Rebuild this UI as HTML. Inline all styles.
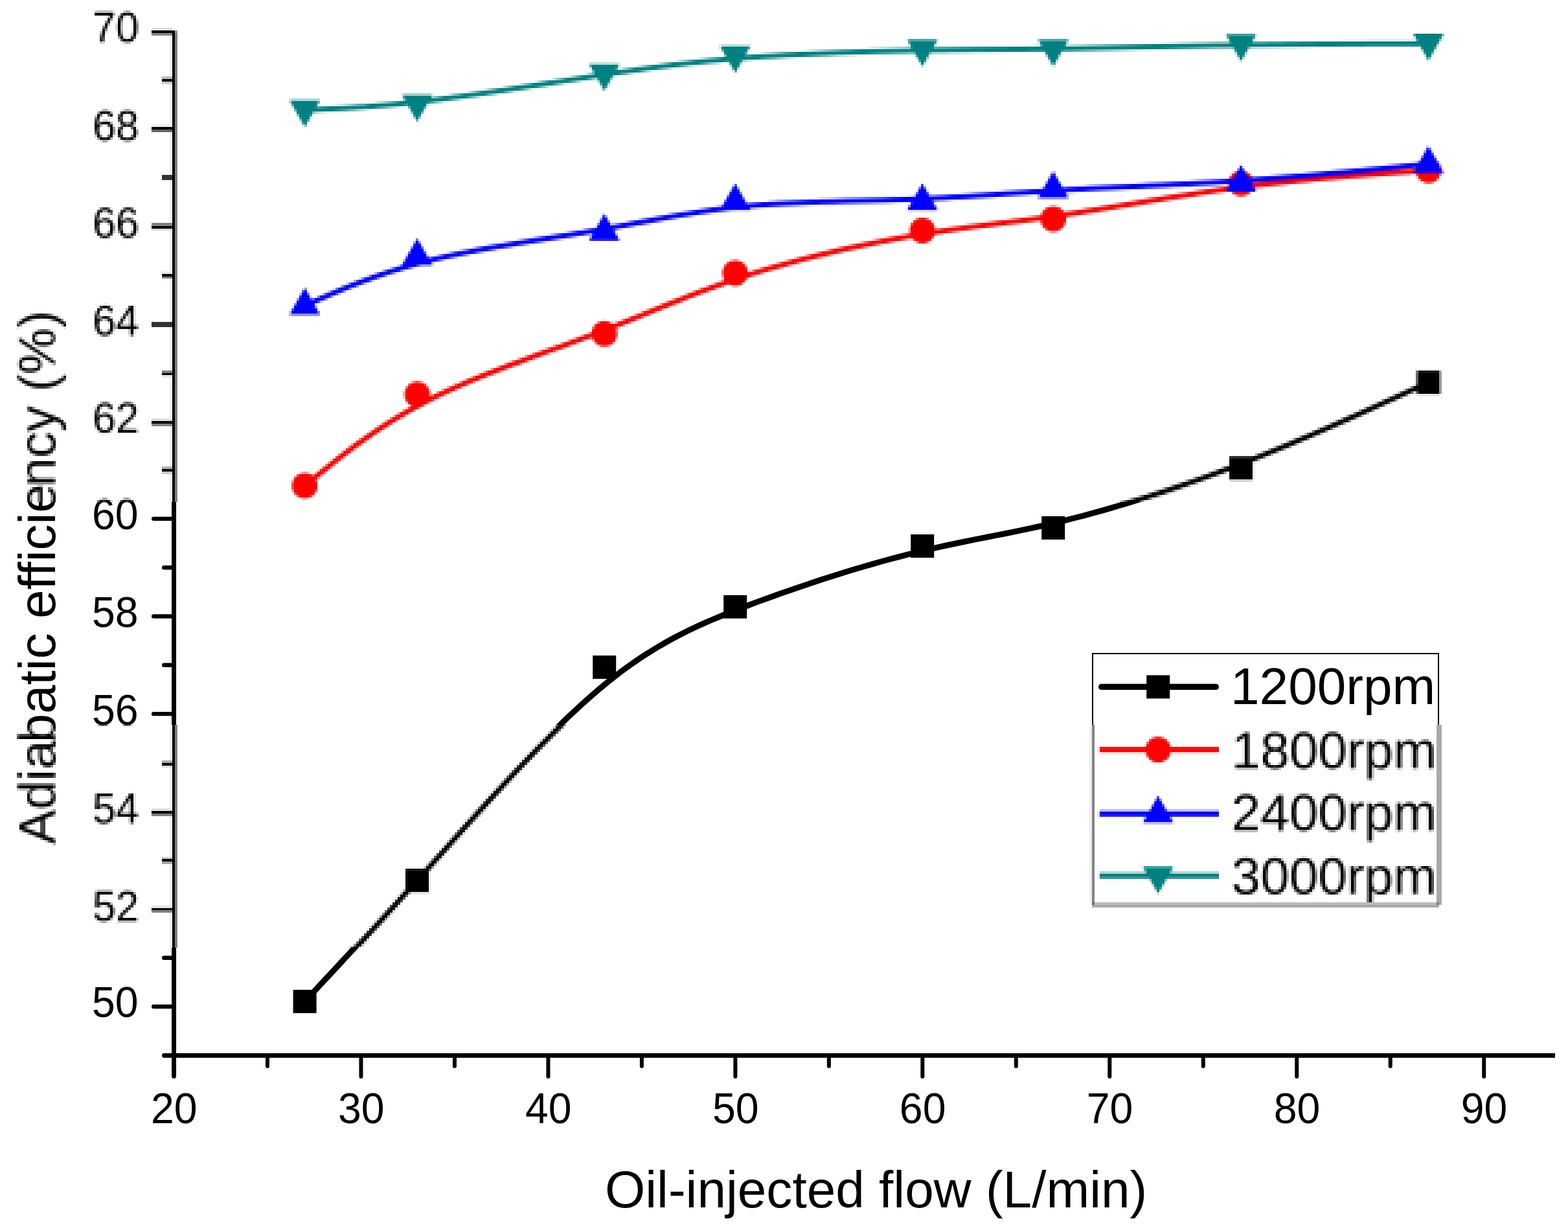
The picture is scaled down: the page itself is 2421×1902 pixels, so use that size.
<!DOCTYPE html>
<html lang="en">
<head>
<meta charset="utf-8">
<title>Adiabatic efficiency vs oil-injected flow</title>
<style>
html,body{margin:0;padding:0;background:#fff;}
body{width:2421px;height:1902px;position:relative;overflow:hidden;}
svg{position:absolute;left:0;top:0;display:block;}
text{font-family:"Liberation Sans",Arial,Helvetica,sans-serif;fill:#000;}
.tick{font-size:66.5px;}
.big{font-size:80.4px;}
</style>
</head>
<body>
<svg width="2421" height="1902" viewBox="0 0 2421 1902">
<defs>
<clipPath id="crispclip"><rect x="0" y="775" width="2421" height="344"/><rect x="0" y="1463" width="2421" height="439"/></clipPath>
<clipPath id="soft1clip"><rect x="0" y="0" width="2421" height="775"/></clipPath>
<clipPath id="soft3clip"><rect x="0" y="1119" width="2421" height="344"/></clipPath>
<filter id="strips" filterUnits="userSpaceOnUse" primitiveUnits="userSpaceOnUse" x="0" y="0" width="2421" height="1902" color-interpolation-filters="sRGB">
<feConvolveMatrix in="SourceGraphic" order="4" kernelMatrix="1 1 1 1 1 1 1 1 1 1 1 1 1 1 1 1" divisor="16" targetX="0" targetY="0" edgeMode="duplicate" preserveAlpha="false" result="avg"/>
<feFlood x="2" y="0" width="1" height="1" flood-color="#000" flood-opacity="1" result="dotA"/>
<feComposite in="dotA" in2="dotA" operator="over" x="2" y="0" width="4" height="4" result="cellA"/>
<feTile in="cellA" x="0" y="0" width="2421" height="1902" result="gridA"/>
<feComposite in="avg" in2="gridA" operator="in" result="samplesA"/>
<feConvolveMatrix in="samplesA" order="4" kernelMatrix="1 1 1 1 1 1 1 1 1 1 1 1 1 1 1 1" divisor="1" targetX="3" targetY="3" edgeMode="none" preserveAlpha="false" result="pixA"/>
<feFlood x="2" y="1" width="1" height="1" flood-color="#000" flood-opacity="1" result="dotB"/>
<feComposite in="dotB" in2="dotB" operator="over" x="2" y="1" width="4" height="4" result="cellB"/>
<feTile in="cellB" x="0" y="0" width="2421" height="1902" result="gridB"/>
<feComposite in="avg" in2="gridB" operator="in" result="samplesB"/>
<feConvolveMatrix in="samplesB" order="4" kernelMatrix="1 1 1 1 1 1 1 1 1 1 1 1 1 1 1 1" divisor="1" targetX="3" targetY="3" edgeMode="none" preserveAlpha="false" result="pixB"/>
<feFlood x="0" y="0" width="2421" height="775" flood-color="#000" result="m1"/>
<feFlood x="0" y="1119" width="2421" height="344" flood-color="#000" result="m2"/>
<feMerge result="mask"><feMergeNode in="m1"/><feMergeNode in="m2"/></feMerge>
<feComposite in="pixA" in2="m1" operator="in" result="softA"/>
<feComposite in="pixB" in2="m2" operator="in" result="softB"/>
<feComposite in="SourceGraphic" in2="mask" operator="out" result="crisppart"/>
<feMerge><feMergeNode in="crisppart"/><feMergeNode in="softA"/><feMergeNode in="softB"/></feMerge>
</filter>
</defs>
<g filter="url(#strips)">
<rect x="0" y="0" width="2421" height="1902" fill="#ffffff"/>

<g stroke="#000" fill="none">
<rect x="265" y="775" width="7" height="344" fill="#000" stroke="none"/>
<rect x="265" y="1463" width="7" height="169.90" fill="#000" stroke="none"/>
<line x1="268.5" y1="1629.4" x2="2401" y2="1629.4" stroke-width="7"/>
<g stroke-width="6.4" stroke-linecap="round">
<line x1="237.20" y1="1554.06" x2="268.5" y2="1554.06"/>
<line x1="253.20" y1="1478.74" x2="268.5" y2="1478.74"/>
<line x1="237.20" y1="1102.14" x2="268.5" y2="1102.14"/>
<line x1="253.20" y1="1026.82" x2="268.5" y2="1026.82"/>
<line x1="237.20" y1="951.50" x2="268.5" y2="951.50"/>
<line x1="253.20" y1="876.18" x2="268.5" y2="876.18"/>
<line x1="237.20" y1="800.86" x2="268.5" y2="800.86"/>
<line x1="253.50" y1="1629.4" x2="268.5" y2="1629.4" stroke-width="7"/>
<line x1="268.50" y1="1629.4" x2="268.50" y2="1661.50" stroke-width="7"/>
<line x1="557.46" y1="1629.4" x2="557.46" y2="1662.00" stroke-width="6"/>
<line x1="846.42" y1="1629.4" x2="846.42" y2="1662.00" stroke-width="6"/>
<line x1="1135.38" y1="1629.4" x2="1135.38" y2="1662.00" stroke-width="6"/>
<line x1="1424.34" y1="1629.4" x2="1424.34" y2="1662.00" stroke-width="6"/>
<line x1="1713.30" y1="1629.4" x2="1713.30" y2="1662.00" stroke-width="6"/>
<line x1="2002.26" y1="1629.4" x2="2002.26" y2="1662.00" stroke-width="6"/>
<line x1="2291.22" y1="1629.4" x2="2291.22" y2="1662.00" stroke-width="6"/>
<line x1="412.98" y1="1629.4" x2="412.98" y2="1646.00" stroke-width="6"/>
<line x1="701.94" y1="1629.4" x2="701.94" y2="1646.00" stroke-width="6"/>
<line x1="990.90" y1="1629.4" x2="990.90" y2="1646.00" stroke-width="6"/>
<line x1="1279.86" y1="1629.4" x2="1279.86" y2="1646.00" stroke-width="6"/>
<line x1="1568.82" y1="1629.4" x2="1568.82" y2="1646.00" stroke-width="6"/>
<line x1="1857.78" y1="1629.4" x2="1857.78" y2="1646.00" stroke-width="6"/>
<line x1="2146.74" y1="1629.4" x2="2146.74" y2="1646.00" stroke-width="6"/>
</g></g>
<g class="tick">
<text transform="translate(213.6,1570.46) scale(0.968,1)" text-anchor="end">50</text>
<text transform="translate(214.6,1421.62) scale(0.968,1)" text-anchor="end">52</text>
<text transform="translate(214.6,1270.98) scale(0.968,1)" text-anchor="end">54</text>
<text transform="translate(213.6,1118.54) scale(0.968,1)" text-anchor="end">56</text>
<text transform="translate(213.6,967.90) scale(0.968,1)" text-anchor="end">58</text>
<text transform="translate(213.6,817.26) scale(0.968,1)" text-anchor="end">60</text>
<text transform="translate(214.6,668.42) scale(0.968,1)" text-anchor="end">62</text>
<text transform="translate(214.6,517.78) scale(0.968,1)" text-anchor="end">64</text>
<text transform="translate(214.6,367.14) scale(0.968,1)" text-anchor="end">66</text>
<text transform="translate(214.6,216.50) scale(0.968,1)" text-anchor="end">68</text>
<text transform="translate(214.6,64.56) scale(0.968,1)" text-anchor="end">70</text>
<text transform="translate(268.80,1733.5) scale(0.968,1)" text-anchor="middle">20</text>
<text transform="translate(557.76,1733.5) scale(0.968,1)" text-anchor="middle">30</text>
<text transform="translate(846.72,1733.5) scale(0.968,1)" text-anchor="middle">40</text>
<text transform="translate(1135.68,1733.5) scale(0.968,1)" text-anchor="middle">50</text>
<text transform="translate(1424.64,1733.5) scale(0.968,1)" text-anchor="middle">60</text>
<text transform="translate(1713.60,1733.5) scale(0.968,1)" text-anchor="middle">70</text>
<text transform="translate(2002.56,1733.5) scale(0.968,1)" text-anchor="middle">80</text>
<text transform="translate(2291.52,1733.5) scale(0.968,1)" text-anchor="middle">90</text>
</g>
<text class="big" transform="translate(1352.6,1863.8) scale(0.997,1)" text-anchor="middle">Oil-injected flow (L/min)</text>
<text class="big" transform="translate(84.9,1307.0) rotate(-90) scale(0.997,1)" text-anchor="start"><tspan dx="3.6">Adia</tspan><tspan dx="-3.6">batic efficie</tspan><tspan dx="-4.2">ncy (%)</tspan></text>
<g>
<path d="M470.6,1546.1 L470.6,1546.1 L470.6,1546.1 L470.7,1546.0 L470.7,1546.0 L470.9,1545.8 L471.1,1545.6 L471.3,1545.3 L471.7,1544.9 L472.1,1544.5 L472.7,1543.8 L473.4,1543.1 L474.2,1542.2 L475.2,1541.2 L476.3,1539.9 L477.7,1538.5 L479.2,1536.9 L480.9,1535.0 L482.8,1533.0 L485.0,1530.7 L487.3,1528.1 L490.0,1525.3 L492.9,1522.1 L496.1,1518.7 L499.5,1515.0 L503.3,1510.9 L507.4,1506.6 L511.7,1501.9 L516.4,1496.9 L521.3,1491.6 L526.5,1485.9 L532.0,1480.0 L537.8,1473.8 L543.8,1467.2 L550.1,1460.4 L556.6,1453.3 L563.4,1445.9 L570.5,1438.2 L577.8,1430.2 L585.3,1422.0 L593.1,1413.4 L601.1,1404.6 L609.4,1395.6 L617.8,1386.2 L626.5,1376.6 L635.4,1366.7 L644.6,1356.6 L653.9,1346.2 L663.4,1335.6 L673.2,1324.7 L683.1,1313.7 L693.2,1302.4 L703.4,1290.9 L713.8,1279.3 L724.3,1267.6 L735.0,1255.8 L745.7,1244.0 L756.5,1232.1 L767.4,1220.3 L778.3,1208.4 L789.3,1196.6 L800.3,1184.9 L811.3,1173.3 L822.3,1161.9 L833.3,1150.6 L844.2,1139.5 L855.1,1128.6 L866.0,1117.9 L876.7,1107.6 L887.4,1097.5 L898.0,1087.8 L908.4,1078.4 L918.7,1069.4 L928.9,1060.8 L938.9,1052.6 L948.8,1044.7 L958.5,1037.2 L968.2,1030.1 L977.8,1023.3 L987.3,1016.8 L996.8,1010.6 L1006.2,1004.7 L1015.5,999.0 L1024.9,993.5 L1034.2,988.3 L1043.5,983.3 L1052.9,978.5 L1062.2,973.8 L1071.6,969.3 L1081.1,964.9 L1090.6,960.7 L1100.2,956.5 L1109.9,952.5 L1119.6,948.5 L1129.5,944.5 L1139.5,940.6 L1149.7,936.7 L1160.0,932.8 L1170.4,928.9 L1181.0,925.0 L1191.7,921.2 L1202.5,917.3 L1213.3,913.5 L1224.3,909.7 L1235.3,905.9 L1246.4,902.2 L1257.4,898.5 L1268.6,894.8 L1279.7,891.3 L1290.8,887.7 L1302.0,884.3 L1313.0,880.8 L1324.1,877.5 L1335.1,874.3 L1346.1,871.1 L1356.9,868.0 L1367.7,865.0 L1378.4,862.1 L1389.0,859.3 L1399.4,856.6 L1409.7,854.0 L1419.9,851.5 L1429.9,849.1 L1439.8,846.8 L1449.5,844.6 L1459.2,842.5 L1468.8,840.5 L1478.3,838.5 L1487.8,836.5 L1497.2,834.6 L1506.5,832.7 L1515.9,830.9 L1525.2,829.0 L1534.6,827.2 L1543.9,825.3 L1553.3,823.5 L1562.7,821.6 L1572.1,819.6 L1581.7,817.7 L1591.3,815.6 L1601.0,813.5 L1610.7,811.3 L1620.7,809.1 L1630.7,806.7 L1640.9,804.3 L1651.2,801.7 L1661.7,799.0 L1672.3,796.3 L1683.0,793.4 L1693.9,790.4 L1704.9,787.3 L1716.0,784.1 L1727.2,780.8 L1738.5,777.4 L1749.9,773.9 L1761.4,770.4 L1773.0,766.7 L1784.7,762.9 L1796.4,759.1 L1808.2,755.1 L1820.0,751.1 L1831.9,747.0 L1843.9,742.8 L1855.9,738.5 L1867.9,734.2 L1879.9,729.8 L1892.0,725.3 L1904.0,720.7 L1916.1,716.0 L1928.2,711.3 L1940.2,706.6 L1952.2,701.7 L1964.2,696.9 L1976.0,692.0 L1987.8,687.2 L1999.4,682.3 L2010.9,677.4 L2022.2,672.6 L2033.3,667.8 L2044.2,663.1 L2054.9,658.5 L2065.3,653.9 L2075.4,649.4 L2085.3,645.0 L2094.8,640.8 L2104.0,636.7 L2112.9,632.7 L2121.4,628.8 L2129.5,625.2 L2137.1,621.7 L2144.3,618.4 L2151.1,615.3 L2157.4,612.4 L2163.1,609.8 L2168.4,607.4 L2173.3,605.2 L2177.7,603.2 L2181.7,601.3 L2185.3,599.7 L2188.5,598.2 L2191.3,596.9 L2193.8,595.8 L2196.0,594.8 L2197.9,593.9 L2199.6,593.2 L2201.0,592.5 L2202.1,592.0 L2203.1,591.6 L2203.8,591.2 L2204.4,590.9 L2204.8,590.7 L2205.2,590.6 L2205.4,590.5 L2205.5,590.4 L2205.6,590.4 L2205.6,590.4 L2205.6,590.4" clip-path="url(#crispclip)" fill="none" stroke="#000000" stroke-width="9" stroke-linejoin="round"/>
<path d="M470.6,1546.1 L470.6,1546.1 L470.6,1546.1 L470.7,1546.0 L470.7,1546.0 L470.9,1545.8 L471.1,1545.6 L471.3,1545.3 L471.7,1544.9 L472.1,1544.5 L472.7,1543.8 L473.4,1543.1 L474.2,1542.2 L475.2,1541.2 L476.3,1539.9 L477.7,1538.5 L479.2,1536.9 L480.9,1535.0 L482.8,1533.0 L485.0,1530.7 L487.3,1528.1 L490.0,1525.3 L492.9,1522.1 L496.1,1518.7 L499.5,1515.0 L503.3,1510.9 L507.4,1506.6 L511.7,1501.9 L516.4,1496.9 L521.3,1491.6 L526.5,1485.9 L532.0,1480.0 L537.8,1473.8 L543.8,1467.2 L550.1,1460.4 L556.6,1453.3 L563.4,1445.9 L570.5,1438.2 L577.8,1430.2 L585.3,1422.0 L593.1,1413.4 L601.1,1404.6 L609.4,1395.6 L617.8,1386.2 L626.5,1376.6 L635.4,1366.7 L644.6,1356.6 L653.9,1346.2 L663.4,1335.6 L673.2,1324.7 L683.1,1313.7 L693.2,1302.4 L703.4,1290.9 L713.8,1279.3 L724.3,1267.6 L735.0,1255.8 L745.7,1244.0 L756.5,1232.1 L767.4,1220.3 L778.3,1208.4 L789.3,1196.6 L800.3,1184.9 L811.3,1173.3 L822.3,1161.9 L833.3,1150.6 L844.2,1139.5 L855.1,1128.6 L866.0,1117.9 L876.7,1107.6 L887.4,1097.5 L898.0,1087.8 L908.4,1078.4 L918.7,1069.4 L928.9,1060.8 L938.9,1052.6 L948.8,1044.7 L958.5,1037.2 L968.2,1030.1 L977.8,1023.3 L987.3,1016.8 L996.8,1010.6 L1006.2,1004.7 L1015.5,999.0 L1024.9,993.5 L1034.2,988.3 L1043.5,983.3 L1052.9,978.5 L1062.2,973.8 L1071.6,969.3 L1081.1,964.9 L1090.6,960.7 L1100.2,956.5 L1109.9,952.5 L1119.6,948.5 L1129.5,944.5 L1139.5,940.6 L1149.7,936.7 L1160.0,932.8 L1170.4,928.9 L1181.0,925.0 L1191.7,921.2 L1202.5,917.3 L1213.3,913.5 L1224.3,909.7 L1235.3,905.9 L1246.4,902.2 L1257.4,898.5 L1268.6,894.8 L1279.7,891.3 L1290.8,887.7 L1302.0,884.3 L1313.0,880.8 L1324.1,877.5 L1335.1,874.3 L1346.1,871.1 L1356.9,868.0 L1367.7,865.0 L1378.4,862.1 L1389.0,859.3 L1399.4,856.6 L1409.7,854.0 L1419.9,851.5 L1429.9,849.1 L1439.8,846.8 L1449.5,844.6 L1459.2,842.5 L1468.8,840.5 L1478.3,838.5 L1487.8,836.5 L1497.2,834.6 L1506.5,832.7 L1515.9,830.9 L1525.2,829.0 L1534.6,827.2 L1543.9,825.3 L1553.3,823.5 L1562.7,821.6 L1572.1,819.6 L1581.7,817.7 L1591.3,815.6 L1601.0,813.5 L1610.7,811.3 L1620.7,809.1 L1630.7,806.7 L1640.9,804.3 L1651.2,801.7 L1661.7,799.0 L1672.3,796.3 L1683.0,793.4 L1693.9,790.4 L1704.9,787.3 L1716.0,784.1 L1727.2,780.8 L1738.5,777.4 L1749.9,773.9 L1761.4,770.4 L1773.0,766.7 L1784.7,762.9 L1796.4,759.1 L1808.2,755.1 L1820.0,751.1 L1831.9,747.0 L1843.9,742.8 L1855.9,738.5 L1867.9,734.2 L1879.9,729.8 L1892.0,725.3 L1904.0,720.7 L1916.1,716.0 L1928.2,711.3 L1940.2,706.6 L1952.2,701.7 L1964.2,696.9 L1976.0,692.0 L1987.8,687.2 L1999.4,682.3 L2010.9,677.4 L2022.2,672.6 L2033.3,667.8 L2044.2,663.1 L2054.9,658.5 L2065.3,653.9 L2075.4,649.4 L2085.3,645.0 L2094.8,640.8 L2104.0,636.7 L2112.9,632.7 L2121.4,628.8 L2129.5,625.2 L2137.1,621.7 L2144.3,618.4 L2151.1,615.3 L2157.4,612.4 L2163.1,609.8 L2168.4,607.4 L2173.3,605.2 L2177.7,603.2 L2181.7,601.3 L2185.3,599.7 L2188.5,598.2 L2191.3,596.9 L2193.8,595.8 L2196.0,594.8 L2197.9,593.9 L2199.6,593.2 L2201.0,592.5 L2202.1,592.0 L2203.1,591.6 L2203.8,591.2 L2204.4,590.9 L2204.8,590.7 L2205.2,590.6 L2205.4,590.5 L2205.5,590.4 L2205.6,590.4 L2205.6,590.4 L2205.6,590.4" clip-path="url(#soft1clip)" fill="none" stroke="#000000" stroke-width="8.0" stroke-linejoin="round"/>
<g clip-path="url(#soft3clip)"><path d="M470.6,1546.1 L470.6,1546.1 L470.6,1546.1 L470.7,1546.0 L470.7,1546.0 L470.9,1545.8 L471.1,1545.6 L471.3,1545.3 L471.7,1544.9 L472.1,1544.5 L472.7,1543.8 L473.4,1543.1 L474.2,1542.2 L475.2,1541.2 L476.3,1539.9 L477.7,1538.5 L479.2,1536.9 L480.9,1535.0 L482.8,1533.0 L485.0,1530.7 L487.3,1528.1 L490.0,1525.3 L492.9,1522.1 L496.1,1518.7 L499.5,1515.0 L503.3,1510.9 L507.4,1506.6 L511.7,1501.9 L516.4,1496.9 L521.3,1491.6 L526.5,1485.9 L532.0,1480.0 L537.8,1473.8 L543.8,1467.2 L550.1,1460.4 L556.6,1453.3 L563.4,1445.9 L570.5,1438.2 L577.8,1430.2 L585.3,1422.0 L593.1,1413.4 L601.1,1404.6 L609.4,1395.6 L617.8,1386.2 L626.5,1376.6 L635.4,1366.7 L644.6,1356.6 L653.9,1346.2 L663.4,1335.6 L673.2,1324.7 L683.1,1313.7 L693.2,1302.4 L703.4,1290.9 L713.8,1279.3 L724.3,1267.6 L735.0,1255.8 L745.7,1244.0 L756.5,1232.1 L767.4,1220.3 L778.3,1208.4 L789.3,1196.6 L800.3,1184.9 L811.3,1173.3 L822.3,1161.9 L833.3,1150.6 L844.2,1139.5 L855.1,1128.6 L866.0,1117.9 L876.7,1107.6 L887.4,1097.5 L898.0,1087.8 L908.4,1078.4 L918.7,1069.4 L928.9,1060.8 L938.9,1052.6 L948.8,1044.7 L958.5,1037.2 L968.2,1030.1 L977.8,1023.3 L987.3,1016.8 L996.8,1010.6 L1006.2,1004.7 L1015.5,999.0 L1024.9,993.5 L1034.2,988.3 L1043.5,983.3 L1052.9,978.5 L1062.2,973.8 L1071.6,969.3 L1081.1,964.9 L1090.6,960.7 L1100.2,956.5 L1109.9,952.5 L1119.6,948.5 L1129.5,944.5 L1139.5,940.6 L1149.7,936.7 L1160.0,932.8 L1170.4,928.9 L1181.0,925.0 L1191.7,921.2 L1202.5,917.3 L1213.3,913.5 L1224.3,909.7 L1235.3,905.9 L1246.4,902.2 L1257.4,898.5 L1268.6,894.8 L1279.7,891.3 L1290.8,887.7 L1302.0,884.3 L1313.0,880.8 L1324.1,877.5 L1335.1,874.3 L1346.1,871.1 L1356.9,868.0 L1367.7,865.0 L1378.4,862.1 L1389.0,859.3 L1399.4,856.6 L1409.7,854.0 L1419.9,851.5 L1429.9,849.1 L1439.8,846.8 L1449.5,844.6 L1459.2,842.5 L1468.8,840.5 L1478.3,838.5 L1487.8,836.5 L1497.2,834.6 L1506.5,832.7 L1515.9,830.9 L1525.2,829.0 L1534.6,827.2 L1543.9,825.3 L1553.3,823.5 L1562.7,821.6 L1572.1,819.6 L1581.7,817.7 L1591.3,815.6 L1601.0,813.5 L1610.7,811.3 L1620.7,809.1 L1630.7,806.7 L1640.9,804.3 L1651.2,801.7 L1661.7,799.0 L1672.3,796.3 L1683.0,793.4 L1693.9,790.4 L1704.9,787.3 L1716.0,784.1 L1727.2,780.8 L1738.5,777.4 L1749.9,773.9 L1761.4,770.4 L1773.0,766.7 L1784.7,762.9 L1796.4,759.1 L1808.2,755.1 L1820.0,751.1 L1831.9,747.0 L1843.9,742.8 L1855.9,738.5 L1867.9,734.2 L1879.9,729.8 L1892.0,725.3 L1904.0,720.7 L1916.1,716.0 L1928.2,711.3 L1940.2,706.6 L1952.2,701.7 L1964.2,696.9 L1976.0,692.0 L1987.8,687.2 L1999.4,682.3 L2010.9,677.4 L2022.2,672.6 L2033.3,667.8 L2044.2,663.1 L2054.9,658.5 L2065.3,653.9 L2075.4,649.4 L2085.3,645.0 L2094.8,640.8 L2104.0,636.7 L2112.9,632.7 L2121.4,628.8 L2129.5,625.2 L2137.1,621.7 L2144.3,618.4 L2151.1,615.3 L2157.4,612.4 L2163.1,609.8 L2168.4,607.4 L2173.3,605.2 L2177.7,603.2 L2181.7,601.3 L2185.3,599.7 L2188.5,598.2 L2191.3,596.9 L2193.8,595.8 L2196.0,594.8 L2197.9,593.9 L2199.6,593.2 L2201.0,592.5 L2202.1,592.0 L2203.1,591.6 L2203.8,591.2 L2204.4,590.9 L2204.8,590.7 L2205.2,590.6 L2205.4,590.5 L2205.5,590.4 L2205.6,590.4 L2205.6,590.4 L2205.6,590.4" transform="translate(1.0,1.2)" fill="none" stroke="#000000" stroke-width="8.0" stroke-linejoin="round"/></g>
<rect x="452.6" y="1528.1" width="36" height="36" fill="#000000"/>
<rect x="626.2" y="1341.4" width="36" height="36" fill="#000000"/>
<rect x="915.2" y="1012.0" width="36" height="36" fill="#000000"/>
<rect x="1117.2" y="918.8" width="36" height="36" fill="#000000"/>
<rect x="1406.2" y="825.0" width="36" height="36" fill="#000000"/>
<rect x="1608.2" y="797.0" width="36" height="36" fill="#000000"/>
<rect x="1898.2" y="704.7" width="36" height="36" fill="#000000"/>
<rect x="2187.6" y="572.4" width="36" height="36" fill="#000000"/>
</g>
<g>
<path d="M470.6,749.8 L470.6,749.8 L470.6,749.8 L470.7,749.8 L470.7,749.7 L470.9,749.6 L471.1,749.4 L471.3,749.2 L471.7,748.9 L472.1,748.6 L472.7,748.1 L473.4,747.5 L474.2,746.9 L475.2,746.1 L476.3,745.1 L477.7,744.1 L479.2,742.8 L480.9,741.5 L482.8,739.9 L485.0,738.1 L487.3,736.2 L490.0,734.1 L492.9,731.7 L496.1,729.1 L499.5,726.3 L503.3,723.3 L507.4,720.0 L511.7,716.5 L516.4,712.8 L521.3,708.9 L526.5,704.8 L532.0,700.6 L537.8,696.2 L543.8,691.6 L550.1,687.0 L556.6,682.2 L563.4,677.4 L570.5,672.5 L577.8,667.5 L585.3,662.4 L593.1,657.3 L601.1,652.2 L609.4,647.1 L617.8,642.0 L626.5,636.8 L635.4,631.7 L644.6,626.7 L653.9,621.7 L663.4,616.8 L673.2,611.9 L683.1,607.2 L693.2,602.5 L703.4,597.9 L713.8,593.3 L724.3,588.8 L735.0,584.4 L745.7,580.0 L756.5,575.7 L767.4,571.5 L778.3,567.3 L789.3,563.1 L800.3,559.0 L811.3,554.9 L822.3,550.8 L833.3,546.8 L844.2,542.8 L855.1,538.8 L866.0,534.9 L876.7,530.9 L887.4,527.0 L898.0,523.1 L908.4,519.2 L918.7,515.3 L928.9,511.4 L938.9,507.5 L948.8,503.6 L958.5,499.7 L968.2,495.8 L977.8,491.9 L987.3,488.1 L996.8,484.2 L1006.2,480.4 L1015.5,476.6 L1024.9,472.8 L1034.2,469.0 L1043.5,465.3 L1052.9,461.6 L1062.2,457.9 L1071.6,454.2 L1081.1,450.6 L1090.6,447.0 L1100.2,443.4 L1109.9,439.9 L1119.6,436.4 L1129.5,433.0 L1139.5,429.6 L1149.7,426.3 L1160.0,423.0 L1170.4,419.7 L1181.0,416.5 L1191.7,413.4 L1202.5,410.3 L1213.3,407.3 L1224.3,404.3 L1235.3,401.4 L1246.4,398.5 L1257.4,395.7 L1268.6,393.0 L1279.7,390.3 L1290.8,387.7 L1302.0,385.2 L1313.0,382.7 L1324.1,380.3 L1335.1,378.0 L1346.1,375.8 L1356.9,373.6 L1367.7,371.5 L1378.4,369.5 L1389.0,367.5 L1399.4,365.6 L1409.7,363.9 L1419.9,362.2 L1429.9,360.5 L1439.8,359.0 L1449.5,357.5 L1459.2,356.1 L1468.8,354.7 L1478.3,353.4 L1487.8,352.1 L1497.2,350.8 L1506.5,349.6 L1515.9,348.4 L1525.2,347.2 L1534.6,346.0 L1543.9,344.8 L1553.3,343.6 L1562.7,342.4 L1572.1,341.2 L1581.7,340.0 L1591.3,338.7 L1601.0,337.5 L1610.7,336.1 L1620.7,334.8 L1630.7,333.3 L1640.9,331.8 L1651.2,330.3 L1661.7,328.7 L1672.3,327.0 L1683.0,325.3 L1693.9,323.6 L1704.9,321.8 L1716.0,320.0 L1727.2,318.1 L1738.5,316.3 L1749.9,314.4 L1761.4,312.5 L1773.0,310.5 L1784.7,308.6 L1796.4,306.7 L1808.2,304.8 L1820.0,302.9 L1831.9,301.1 L1843.9,299.2 L1855.9,297.4 L1867.9,295.6 L1879.9,293.9 L1892.0,292.2 L1904.0,290.5 L1916.1,288.9 L1928.2,287.4 L1940.2,285.9 L1952.2,284.5 L1964.2,283.2 L1976.0,281.9 L1987.8,280.6 L1999.4,279.4 L2010.9,278.3 L2022.2,277.2 L2033.3,276.1 L2044.2,275.1 L2054.9,274.2 L2065.3,273.3 L2075.4,272.4 L2085.3,271.6 L2094.8,270.9 L2104.0,270.2 L2112.9,269.5 L2121.4,268.9 L2129.5,268.3 L2137.1,267.7 L2144.3,267.2 L2151.1,266.7 L2157.4,266.3 L2163.1,265.9 L2168.4,265.5 L2173.3,265.2 L2177.7,264.9 L2181.7,264.6 L2185.3,264.3 L2188.5,264.1 L2191.3,263.9 L2193.8,263.7 L2196.0,263.6 L2197.9,263.4 L2199.6,263.3 L2201.0,263.2 L2202.1,263.1 L2203.1,263.1 L2203.8,263.0 L2204.4,263.0 L2204.8,263.0 L2205.2,262.9 L2205.4,262.9 L2205.5,262.9 L2205.6,262.9 L2205.6,262.9 L2205.6,262.9" fill="none" stroke="#ff0000" stroke-width="8.0" stroke-linejoin="round"/>
<circle cx="470.6" cy="749.8" r="19.8" fill="#ff0000"/>
<circle cx="644.2" cy="608.9" r="19.8" fill="#ff0000"/>
<circle cx="933.2" cy="515.3" r="19.8" fill="#ff0000"/>
<circle cx="1135.2" cy="421.6" r="19.8" fill="#ff0000"/>
<circle cx="1424.2" cy="355.9" r="19.8" fill="#ff0000"/>
<circle cx="1626.2" cy="338.0" r="19.8" fill="#ff0000"/>
<circle cx="1916.2" cy="283.2" r="19.8" fill="#ff0000"/>
<circle cx="2205.6" cy="262.9" r="19.8" fill="#ff0000"/>
</g>
<g>
<path d="M470.6,471.8 L470.6,471.8 L470.6,471.8 L470.7,471.8 L470.7,471.7 L470.9,471.7 L471.1,471.6 L471.3,471.5 L471.7,471.3 L472.1,471.1 L472.7,470.9 L473.4,470.6 L474.2,470.2 L475.2,469.8 L476.3,469.3 L477.7,468.7 L479.2,468.0 L480.9,467.3 L482.8,466.4 L485.0,465.5 L487.3,464.5 L490.0,463.3 L492.9,462.0 L496.1,460.6 L499.5,459.1 L503.3,457.5 L507.4,455.7 L511.7,453.8 L516.4,451.8 L521.3,449.7 L526.5,447.5 L532.0,445.3 L537.8,442.9 L543.8,440.5 L550.1,438.0 L556.6,435.5 L563.4,433.0 L570.5,430.4 L577.8,427.7 L585.3,425.1 L593.1,422.5 L601.1,419.8 L609.4,417.2 L617.8,414.6 L626.5,412.0 L635.4,409.4 L644.6,406.9 L653.9,404.4 L663.4,402.0 L673.2,399.7 L683.1,397.4 L693.2,395.2 L703.4,393.0 L713.8,390.9 L724.3,388.8 L735.0,386.8 L745.7,384.8 L756.5,382.8 L767.4,380.9 L778.3,379.1 L789.3,377.2 L800.3,375.4 L811.3,373.6 L822.3,371.8 L833.3,370.0 L844.2,368.3 L855.1,366.5 L866.0,364.8 L876.7,363.1 L887.4,361.3 L898.0,359.6 L908.4,357.8 L918.7,356.1 L928.9,354.3 L938.9,352.5 L948.8,350.7 L958.5,348.9 L968.2,347.1 L977.8,345.3 L987.3,343.5 L996.8,341.8 L1006.2,340.0 L1015.5,338.3 L1024.9,336.6 L1034.2,334.9 L1043.5,333.2 L1052.9,331.6 L1062.2,330.1 L1071.6,328.6 L1081.1,327.1 L1090.6,325.7 L1100.2,324.3 L1109.9,323.0 L1119.6,321.8 L1129.5,320.6 L1139.5,319.5 L1149.7,318.5 L1160.0,317.5 L1170.4,316.7 L1181.0,315.9 L1191.7,315.2 L1202.5,314.5 L1213.3,313.9 L1224.3,313.4 L1235.3,312.9 L1246.4,312.4 L1257.4,312.0 L1268.6,311.6 L1279.7,311.2 L1290.8,310.9 L1302.0,310.6 L1313.0,310.3 L1324.1,310.0 L1335.1,309.7 L1346.1,309.4 L1356.9,309.2 L1367.7,308.9 L1378.4,308.6 L1389.0,308.2 L1399.4,307.9 L1409.7,307.5 L1419.9,307.1 L1429.9,306.7 L1439.8,306.2 L1449.5,305.7 L1459.2,305.2 L1468.8,304.6 L1478.3,304.1 L1487.8,303.5 L1497.2,302.9 L1506.5,302.3 L1515.9,301.7 L1525.2,301.1 L1534.6,300.4 L1543.9,299.8 L1553.3,299.1 L1562.7,298.5 L1572.1,297.8 L1581.7,297.2 L1591.3,296.5 L1601.0,295.9 L1610.7,295.2 L1620.7,294.6 L1630.7,294.0 L1640.9,293.4 L1651.2,292.8 L1661.7,292.2 L1672.3,291.7 L1683.0,291.1 L1693.9,290.6 L1704.9,290.1 L1716.0,289.5 L1727.2,289.0 L1738.5,288.5 L1749.9,287.9 L1761.4,287.4 L1773.0,286.8 L1784.7,286.3 L1796.4,285.7 L1808.2,285.1 L1820.0,284.5 L1831.9,283.9 L1843.9,283.3 L1855.9,282.6 L1867.9,281.9 L1879.9,281.2 L1892.0,280.5 L1904.0,279.7 L1916.1,278.9 L1928.2,278.1 L1940.2,277.3 L1952.2,276.4 L1964.2,275.5 L1976.0,274.5 L1987.8,273.6 L1999.4,272.6 L2010.9,271.7 L2022.2,270.7 L2033.3,269.7 L2044.2,268.8 L2054.9,267.8 L2065.3,266.8 L2075.4,265.9 L2085.3,265.0 L2094.8,264.1 L2104.0,263.2 L2112.9,262.3 L2121.4,261.5 L2129.5,260.7 L2137.1,259.9 L2144.3,259.2 L2151.1,258.5 L2157.4,257.9 L2163.1,257.3 L2168.4,256.7 L2173.3,256.3 L2177.7,255.8 L2181.7,255.4 L2185.3,255.1 L2188.5,254.7 L2191.3,254.4 L2193.8,254.2 L2196.0,254.0 L2197.9,253.8 L2199.6,253.6 L2201.0,253.5 L2202.1,253.4 L2203.1,253.3 L2203.8,253.2 L2204.4,253.1 L2204.8,253.1 L2205.2,253.0 L2205.4,253.0 L2205.5,253.0 L2205.6,253.0 L2205.6,253.0 L2205.6,253.0" fill="none" stroke="#0000ff" stroke-width="8.0" stroke-linejoin="round"/>
<polygon points="446.9,485.7 494.3,485.7 470.6,444.1" fill="#0000ff"/>
<polygon points="620.5,409.6 667.9,409.6 644.2,368.0" fill="#0000ff"/>
<polygon points="909.5,371.4 956.9,371.4 933.2,329.8" fill="#0000ff"/>
<polygon points="1111.5,324.6 1158.9,324.6 1135.2,283.0" fill="#0000ff"/>
<polygon points="1400.5,324.5 1447.9,324.5 1424.2,282.9" fill="#0000ff"/>
<polygon points="1602.5,305.8 1649.9,305.8 1626.2,264.2" fill="#0000ff"/>
<polygon points="1892.5,296.1 1939.9,296.1 1916.2,254.5" fill="#0000ff"/>
<polygon points="2181.9,266.9 2229.3,266.9 2205.6,225.3" fill="#0000ff"/>
</g>
<g>
<path d="M470.6,170.0 L470.6,170.0 L470.6,170.0 L470.7,170.0 L470.7,170.0 L470.9,170.0 L471.1,170.0 L471.3,170.0 L471.7,169.9 L472.1,169.9 L472.7,169.9 L473.4,169.9 L474.2,169.8 L475.2,169.8 L476.3,169.7 L477.7,169.7 L479.2,169.6 L480.9,169.5 L482.8,169.4 L485.0,169.3 L487.3,169.2 L490.0,169.1 L492.9,168.9 L496.1,168.8 L499.5,168.6 L503.3,168.4 L507.4,168.2 L511.7,168.0 L516.4,167.8 L521.3,167.5 L526.5,167.2 L532.0,166.9 L537.8,166.6 L543.8,166.2 L550.1,165.8 L556.6,165.3 L563.4,164.9 L570.5,164.3 L577.8,163.8 L585.3,163.1 L593.1,162.5 L601.1,161.8 L609.4,161.0 L617.8,160.2 L626.5,159.3 L635.4,158.3 L644.6,157.3 L653.9,156.3 L663.4,155.2 L673.2,154.0 L683.1,152.7 L693.2,151.4 L703.4,150.0 L713.8,148.6 L724.3,147.1 L735.0,145.6 L745.7,144.0 L756.5,142.4 L767.4,140.8 L778.3,139.2 L789.3,137.5 L800.3,135.8 L811.3,134.1 L822.3,132.4 L833.3,130.7 L844.2,129.0 L855.1,127.3 L866.0,125.6 L876.7,123.9 L887.4,122.2 L898.0,120.6 L908.4,119.0 L918.7,117.4 L928.9,115.8 L938.9,114.3 L948.8,112.8 L958.5,111.4 L968.2,110.0 L977.8,108.6 L987.3,107.2 L996.8,105.9 L1006.2,104.6 L1015.5,103.4 L1024.9,102.2 L1034.2,101.0 L1043.5,99.8 L1052.9,98.7 L1062.2,97.6 L1071.6,96.6 L1081.1,95.6 L1090.6,94.6 L1100.2,93.6 L1109.9,92.7 L1119.6,91.8 L1129.5,90.9 L1139.5,90.1 L1149.7,89.3 L1160.0,88.5 L1170.4,87.8 L1181.0,87.1 L1191.7,86.4 L1202.5,85.7 L1213.3,85.1 L1224.3,84.5 L1235.3,83.9 L1246.4,83.4 L1257.4,82.9 L1268.6,82.4 L1279.7,81.9 L1290.8,81.5 L1302.0,81.1 L1313.0,80.7 L1324.1,80.3 L1335.1,79.9 L1346.1,79.6 L1356.9,79.3 L1367.7,79.0 L1378.4,78.7 L1389.0,78.5 L1399.4,78.3 L1409.7,78.0 L1419.9,77.9 L1429.9,77.7 L1439.8,77.5 L1449.5,77.3 L1459.2,77.2 L1468.8,77.1 L1478.3,77.0 L1487.8,76.8 L1497.2,76.7 L1506.5,76.6 L1515.9,76.5 L1525.2,76.4 L1534.6,76.3 L1543.9,76.3 L1553.3,76.2 L1562.7,76.1 L1572.1,76.0 L1581.7,75.9 L1591.3,75.7 L1601.0,75.6 L1610.7,75.5 L1620.7,75.4 L1630.7,75.2 L1640.9,75.0 L1651.2,74.9 L1661.7,74.7 L1672.3,74.5 L1683.0,74.3 L1693.9,74.1 L1704.9,73.8 L1716.0,73.6 L1727.2,73.3 L1738.5,73.1 L1749.9,72.8 L1761.4,72.6 L1773.0,72.3 L1784.7,72.1 L1796.4,71.8 L1808.2,71.6 L1820.0,71.3 L1831.9,71.0 L1843.9,70.8 L1855.9,70.6 L1867.9,70.3 L1879.9,70.1 L1892.0,69.9 L1904.0,69.7 L1916.1,69.5 L1928.2,69.3 L1940.2,69.1 L1952.2,69.0 L1964.2,68.8 L1976.0,68.7 L1987.8,68.6 L1999.4,68.4 L2010.9,68.3 L2022.2,68.2 L2033.3,68.1 L2044.2,68.0 L2054.9,68.0 L2065.3,67.9 L2075.4,67.8 L2085.3,67.8 L2094.8,67.7 L2104.0,67.7 L2112.9,67.6 L2121.4,67.6 L2129.5,67.6 L2137.1,67.5 L2144.3,67.5 L2151.1,67.5 L2157.4,67.5 L2163.1,67.4 L2168.4,67.4 L2173.3,67.4 L2177.7,67.4 L2181.7,67.4 L2185.3,67.4 L2188.5,67.4 L2191.3,67.3 L2193.8,67.3 L2196.0,67.3 L2197.9,67.3 L2199.6,67.3 L2201.0,67.3 L2202.1,67.3 L2203.1,67.3 L2203.8,67.3 L2204.4,67.3 L2204.8,67.3 L2205.2,67.3 L2205.4,67.3 L2205.5,67.3 L2205.6,67.3 L2205.6,67.3 L2205.6,67.3" fill="none" stroke="#008080" stroke-width="8.0" stroke-linejoin="round"/>
<polygon points="446.9,154.8 494.3,154.8 470.6,196.4" fill="#008080"/>
<polygon points="620.5,146.5 667.9,146.5 644.2,188.1" fill="#008080"/>
<polygon points="909.5,98.9 956.9,98.9 933.2,140.5" fill="#008080"/>
<polygon points="1111.5,71.1 1158.9,71.1 1135.2,112.7" fill="#008080"/>
<polygon points="1400.5,61.2 1447.9,61.2 1424.2,102.8" fill="#008080"/>
<polygon points="1602.5,61.2 1649.9,61.2 1626.2,102.8" fill="#008080"/>
<polygon points="1892.5,53.1 1939.9,53.1 1916.2,94.7" fill="#008080"/>
<polygon points="2181.9,52.1 2229.3,52.1 2205.6,93.7" fill="#008080"/>
</g>
<path d="M1687,1119 V1009 H2221 V1119" fill="none" stroke="#000" stroke-width="2"/>
<line x1="1700.6" y1="1060.4" x2="1877.4" y2="1060.4" stroke="#000000" stroke-width="9.2" stroke-linecap="round"/>
<rect x="1770.2" y="1042.4" width="36" height="36" fill="#000000"/>
<text class="big" transform="translate(2216.3,1086.6) scale(0.997,1)" text-anchor="end">1200rpm</text>
<line x1="1697.5" y1="1157.4" x2="1882" y2="1157.4" stroke="#ff0000" stroke-width="8.4"/>
<circle cx="1788.2" cy="1157.4" r="19.8" fill="#ff0000"/>
<text class="big" transform="translate(2217.9,1185.6) scale(0.997,1)" text-anchor="end">1800rpm</text>
<line x1="1697.5" y1="1256.2" x2="1882" y2="1256.2" stroke="#0000ff" stroke-width="8.4"/>
<polygon points="1764.5,1270.1 1811.9,1270.1 1788.2,1228.5" fill="#0000ff"/>
<text class="big" transform="translate(2217.9,1282.2) scale(0.997,1)" text-anchor="end">2400rpm</text>
<line x1="1697.5" y1="1352.0" x2="1882" y2="1352.0" stroke="#008080" stroke-width="8.4"/>
<polygon points="1764.5,1338.1 1811.9,1338.1 1788.2,1379.7" fill="#008080"/>
<text class="big" transform="translate(2217.9,1379.6) scale(0.997,1)" text-anchor="end">3000rpm</text>
</g>
<g shape-rendering="crispEdges">
<rect x="262" y="55.3" width="4" height="719.7" fill="#ededed"/>
<rect x="262" y="1119" width="4" height="344" fill="#ededed"/>
<rect x="234.2" y="43.3" width="31.8" height="4.0" fill="#dedede"/>
<rect x="234.2" y="47.3" width="31.8" height="4.0" fill="#000000"/>
<rect x="234.2" y="51.3" width="31.8" height="4.0" fill="#878787"/>
<rect x="250.2" y="118.1" width="15.8" height="3.9" fill="#bababa"/>
<rect x="250.2" y="122.0" width="15.8" height="4.0" fill="#000000"/>
<rect x="250.2" y="126.0" width="15.8" height="3.9" fill="#cccccc"/>
<rect x="234.2" y="192.0" width="31.8" height="3.9" fill="#ededed"/>
<rect x="234.2" y="195.9" width="31.8" height="4.0" fill="#000000"/>
<rect x="234.2" y="199.9" width="31.8" height="3.9" fill="#666666"/>
<rect x="250.2" y="270.2" width="15.8" height="4.1" fill="#333333"/>
<rect x="250.2" y="274.3" width="15.8" height="3.9" fill="#333333"/>
<rect x="234.2" y="344.3" width="31.8" height="4.2" fill="#808080"/>
<rect x="234.2" y="348.5" width="31.8" height="4.0" fill="#000000"/>
<rect x="234.2" y="352.5" width="31.8" height="3.8" fill="#d9d9d9"/>
<rect x="250.2" y="419.0" width="15.8" height="4.1" fill="#e6e6e6"/>
<rect x="250.2" y="423.1" width="15.8" height="3.5" fill="#000000"/>
<rect x="250.2" y="426.6" width="15.8" height="3.5" fill="#808080"/>
<rect x="234.2" y="497.2" width="31.8" height="3.9" fill="#333333"/>
<rect x="234.2" y="501.1" width="31.8" height="3.7" fill="#333333"/>
<rect x="250.2" y="571.6" width="15.8" height="3.9" fill="#808080"/>
<rect x="250.2" y="575.5" width="15.8" height="3.8" fill="#000000"/>
<rect x="250.2" y="579.3" width="15.8" height="3.7" fill="#e6e6e6"/>
<rect x="234.2" y="646.1" width="31.8" height="3.7" fill="#dedede"/>
<rect x="234.2" y="649.8" width="31.8" height="3.9" fill="#000000"/>
<rect x="234.2" y="653.7" width="31.8" height="4.1" fill="#808080"/>
<rect x="250.2" y="720.1" width="15.8" height="3.8" fill="#b2b2b2"/>
<rect x="250.2" y="723.9" width="15.8" height="4.1" fill="#000000"/>
<rect x="250.2" y="728.0" width="15.8" height="3.8" fill="#cccccc"/>
<rect x="250.2" y="1174.0" width="15.8" height="3.7" fill="#a6a6a6"/>
<rect x="250.2" y="1177.7" width="15.8" height="3.9" fill="#000000"/>
<rect x="250.2" y="1181.6" width="15.8" height="3.8" fill="#d9d9d9"/>
<rect x="234.2" y="1248.3" width="31.8" height="3.9" fill="#dedede"/>
<rect x="234.2" y="1252.2" width="31.8" height="3.8" fill="#000000"/>
<rect x="234.2" y="1256.0" width="31.8" height="4.0" fill="#808080"/>
<rect x="250.2" y="1322.5" width="15.8" height="3.7" fill="#cccccc"/>
<rect x="250.2" y="1326.2" width="15.8" height="3.8" fill="#000000"/>
<rect x="250.2" y="1330.0" width="15.8" height="3.9" fill="#a6a6a6"/>
<rect x="234.2" y="1397.6" width="31.8" height="3.9" fill="#e6e6e6"/>
<rect x="234.2" y="1401.5" width="31.8" height="3.7" fill="#000000"/>
<rect x="234.2" y="1405.2" width="31.8" height="3.7" fill="#808080"/>
<rect x="266" y="47.3" width="4" height="727.7" fill="#000000"/>
<rect x="270" y="47.3" width="4" height="727.7" fill="#808080"/>
<rect x="266" y="1119" width="4" height="344" fill="#000000"/>
<rect x="270" y="1119" width="4" height="344" fill="#808080"/>
<rect x="270" y="47.3" width="4" height="4" fill="#999999"/>
<rect x="1682.2" y="1119" width="3.9" height="274" fill="#eeeeee"/>
<rect x="1686.1" y="1119" width="4" height="277.6" fill="#848484"/>
<rect x="1686.1" y="1392.9" width="535.8" height="4" fill="#bbbbbb"/>
<rect x="1686.1" y="1396.9" width="535.8" height="3.7" fill="#a9a9a9"/>
<rect x="2218.3" y="1119" width="7.6" height="277.6" fill="#a9a9a9"/>
<rect x="1686.1" y="1392.9" width="4" height="4" fill="#666666"/>
<rect x="2218.3" y="1392.9" width="3.8" height="4" fill="#808080"/>
</g>
</svg>
</body>
</html>
